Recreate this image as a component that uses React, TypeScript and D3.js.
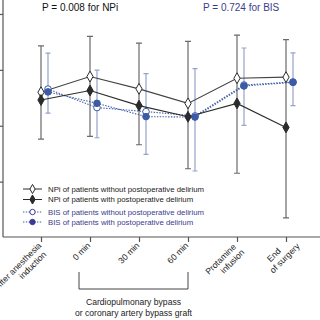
import { useRef, useEffect } from 'react'
import { select, scaleLinear, scalePoint, axisLeft, axisBottom, line, symbol, symbolDiamond } from 'd3'

// time points along the operation
const timePoints = ['induction', '0', '30', '60', 'protamine', 'end']
const timeLabels = [
  ['After anesthesia', 'induction'],
  ['0 min'],
  ['30 min'],
  ['60 min'],
  ['Protamine', 'infusion'],
  ['End', 'of surgery'],
]

// NPi (left scale)
const npiWithout = [2.6, 2.88, 2.66, 2.4, 2.85, 2.87]
const npiWith = [2.46, 2.63, 2.36, 2.16, 2.4, 1.97]
const npiUpper = [3.43, 3.6, 3.48, 3.51, 3.62, 3.54]
const npiLower = [1.76, 1.81, 1.66, 1.23, 1.15, 0.35]

// BIS (second scale)
const bisWithout = [62.5, 54.7, 53.0, 51.2, 64.2, 65.5]
const bisWith = [61.3, 56.5, 50.9, 50.7, 63.8, 65.3]
const bisUpper = [77.6, 70.5, 69.0, 71.1, 79.8, 77.7]
const bisLower = [52.4, 42.0, 35.0, 28.0, 47.2, 55.5]

const legendItems = [
  'NPi of patients without postoperative delirium',
  'NPi of patients with postoperative delirium',
  'BIS of patients without postoperative delirium',
  'BIS of patients with postoperative delirium',
]

const FONT = 'Liberation Sans, Arial, sans-serif'
const DARK = '#2b2b2b'
const BLUE = '#3d5aa6'
const BLUE_BAR = '#94a3c9'
const NAVY_TEXT = '#3b3d8c'

// shift of each label line along the rotated baseline
const labelShift = [
  [0, -3],
  [0],
  [0],
  [0],
  [-2, 0],
  [-8, 9],
]

const App = () => {
  const svgRef = useRef(null)

  useEffect(() => {
    const svg = select(svgRef.current)
    svg.selectAll('*').remove()

    const x = scalePoint().domain(timePoints).range([41, 286])
    const y = scaleLinear().domain([0, 4.25]).range([237.5, 0])
    const yBis = scaleLinear().domain([0, 100]).range([237.5, 0])
    const bisShift = 7

    // axes
    const yAxis = svg
      .append('g')
      .attr('transform', 'translate(3,0)')
      .call(axisLeft(y).tickValues([1, 2, 3, 4]).tickSize(3).tickFormat(() => ''))
    yAxis.select('.domain').attr('d', 'M0,0V237')

    const xAxis = svg
      .append('g')
      .attr('transform', 'translate(0,237)')
      .call(axisBottom(x).tickSize(5).tickFormat(() => ''))
    xAxis.select('.domain').attr('d', 'M3,0H320')
    svg.selectAll('.domain, .tick line').attr('stroke', '#555').attr('stroke-width', 1.2)

    // tick labels, rotated
    timeLabels.forEach((lines, i) => {
      const t = svg
        .append('text')
        .attr('transform', `translate(${x(timePoints[i]) + 1},${246}) rotate(-45)`)
        .attr('text-anchor', 'end')
        .attr('font-family', FONT)
        .attr('font-size', 8.6)
        .attr('fill', '#222')
      lines.forEach((s, j) => {
        t.append('tspan')
          .attr('x', labelShift[i][j])
          .attr('dy', j === 0 ? 0 : '1.15em')
          .text(s)
      })
    })

    // bypass bracket
    svg
      .append('path')
      .attr('d', `M${x('0') - 11},272V289H${x('60')}V272`)
      .attr('fill', 'none')
      .attr('stroke', '#444')
      .attr('stroke-width', 1)
    const bracketMid = (x('0') - 11 + x('60')) / 2
    svg
      .append('text')
      .attr('x', bracketMid)
      .attr('y', 305)
      .attr('text-anchor', 'middle')
      .attr('font-family', FONT)
      .attr('font-size', 8.6)
      .attr('fill', '#222')
      .text('Cardiopulmonary bypass')
    svg
      .append('text')
      .attr('x', bracketMid)
      .attr('y', 316)
      .attr('text-anchor', 'middle')
      .attr('font-family', FONT)
      .attr('font-size', 8.6)
      .attr('fill', '#222')
      .text('or coronary artery bypass graft')

    // error bars
    const errorBars = (xs, lo, hi, color, cap, width) => {
      const g = svg.append('g').attr('stroke', color).attr('stroke-width', width).attr('fill', 'none')
      xs.forEach((cx, i) => {
        g.append('path').attr(
          'd',
          `M${cx},${lo[i]}V${hi[i]}M${cx - cap},${lo[i]}H${cx + cap}M${cx - cap},${hi[i]}H${cx + cap}`
        )
      })
    }
    const npiX = timePoints.map((t) => x(t))
    const bisX = timePoints.map((t) => x(t) + bisShift)
    errorBars(npiX, npiLower.map(y), npiUpper.map(y), '#6a6a6a', 3, 1.2)
    errorBars(bisX, bisLower.map(yBis), bisUpper.map(yBis), BLUE_BAR, 2.5, 1.2)

    // series lines
    const path = (pts, color, dash) =>
      svg
        .append('path')
        .attr('d', line()(pts))
        .attr('fill', 'none')
        .attr('stroke', color)
        .attr('stroke-width', 1.1)
        .attr('stroke-dasharray', dash)
    const pts = (xs, vs, sc) => xs.map((cx, i) => [cx, sc(vs[i])])
    path(pts(bisX, bisWithout, yBis), BLUE, '1.4,1.4')
    path(pts(bisX, bisWith, yBis), BLUE, '1.4,1.4')
    path(pts(npiX, npiWithout, y), '#444', null)
    path(pts(npiX, npiWith, y), DARK, null)

    // markers
    const diamond = symbol().type(symbolDiamond).size(34)
    const drawDiamonds = (p, fill) =>
      p.forEach(([cx, cy]) =>
        svg
          .append('path')
          .attr('d', diamond())
          .attr('transform', `translate(${cx},${cy})`)
          .attr('fill', fill)
          .attr('stroke', DARK)
          .attr('stroke-width', 1)
      )
    const drawCircles = (p, fill) =>
      p.forEach(([cx, cy]) =>
        svg
          .append('circle')
          .attr('cx', cx)
          .attr('cy', cy)
          .attr('r', 3.3)
          .attr('fill', fill)
          .attr('stroke', BLUE)
          .attr('stroke-width', 1)
      )
    drawCircles(pts(bisX, bisWithout, yBis), '#fff')
    drawCircles(pts(bisX, bisWith, yBis), BLUE)
    drawDiamonds(pts(npiX, npiWithout, y), '#fff')
    drawDiamonds(pts(npiX, npiWith, y), DARK)

    // legend
    const legendY = [189, 199.5, 212, 222]
    legendItems.forEach((label, i) => {
      const isBis = i >= 2
      const filled = i % 2 === 1
      const ly = legendY[i]
      svg
        .append('line')
        .attr('x1', 23)
        .attr('x2', 42)
        .attr('y1', ly)
        .attr('y2', ly)
        .attr('stroke', isBis ? BLUE : DARK)
        .attr('stroke-width', 1)
        .attr('stroke-dasharray', isBis ? '1.4,1.4' : null)
      if (isBis) {
        svg
          .append('circle')
          .attr('cx', 32.5)
          .attr('cy', ly)
          .attr('r', 2.7)
          .attr('fill', filled ? '#3a3a96' : '#fff')
          .attr('stroke', '#3a3a96')
      } else {
        svg
          .append('path')
          .attr('d', symbol().type(symbolDiamond).size(24)())
          .attr('transform', `translate(32.5,${ly})`)
          .attr('fill', filled ? DARK : '#fff')
          .attr('stroke', DARK)
      }
      svg
        .append('text')
        .attr('x', 48)
        .attr('y', ly + 2.8)
        .attr('font-family', FONT)
        .attr('font-size', 7.8)
        .attr('fill', isBis ? NAVY_TEXT : '#222')
        .text(label)
    })

    // p-values
    svg
      .append('text')
      .attr('x', 42)
      .attr('y', 11)
      .attr('font-family', FONT)
      .attr('font-size', 10)
      .attr('fill', '#111')
      .text('P = 0.008 for NPi')
    svg
      .append('text')
      .attr('x', 203)
      .attr('y', 11)
      .attr('font-family', FONT)
      .attr('font-size', 10)
      .attr('fill', NAVY_TEXT)
      .text('P = 0.724 for BIS')
  }, [])

  return (
    <div style={{ position: 'absolute', left: 0, top: 0 }}>
      <svg width="320" height="320" ref={svgRef} style={{ display: 'block', background: '#fff' }}></svg>
    </div>
  )
}

export default App
